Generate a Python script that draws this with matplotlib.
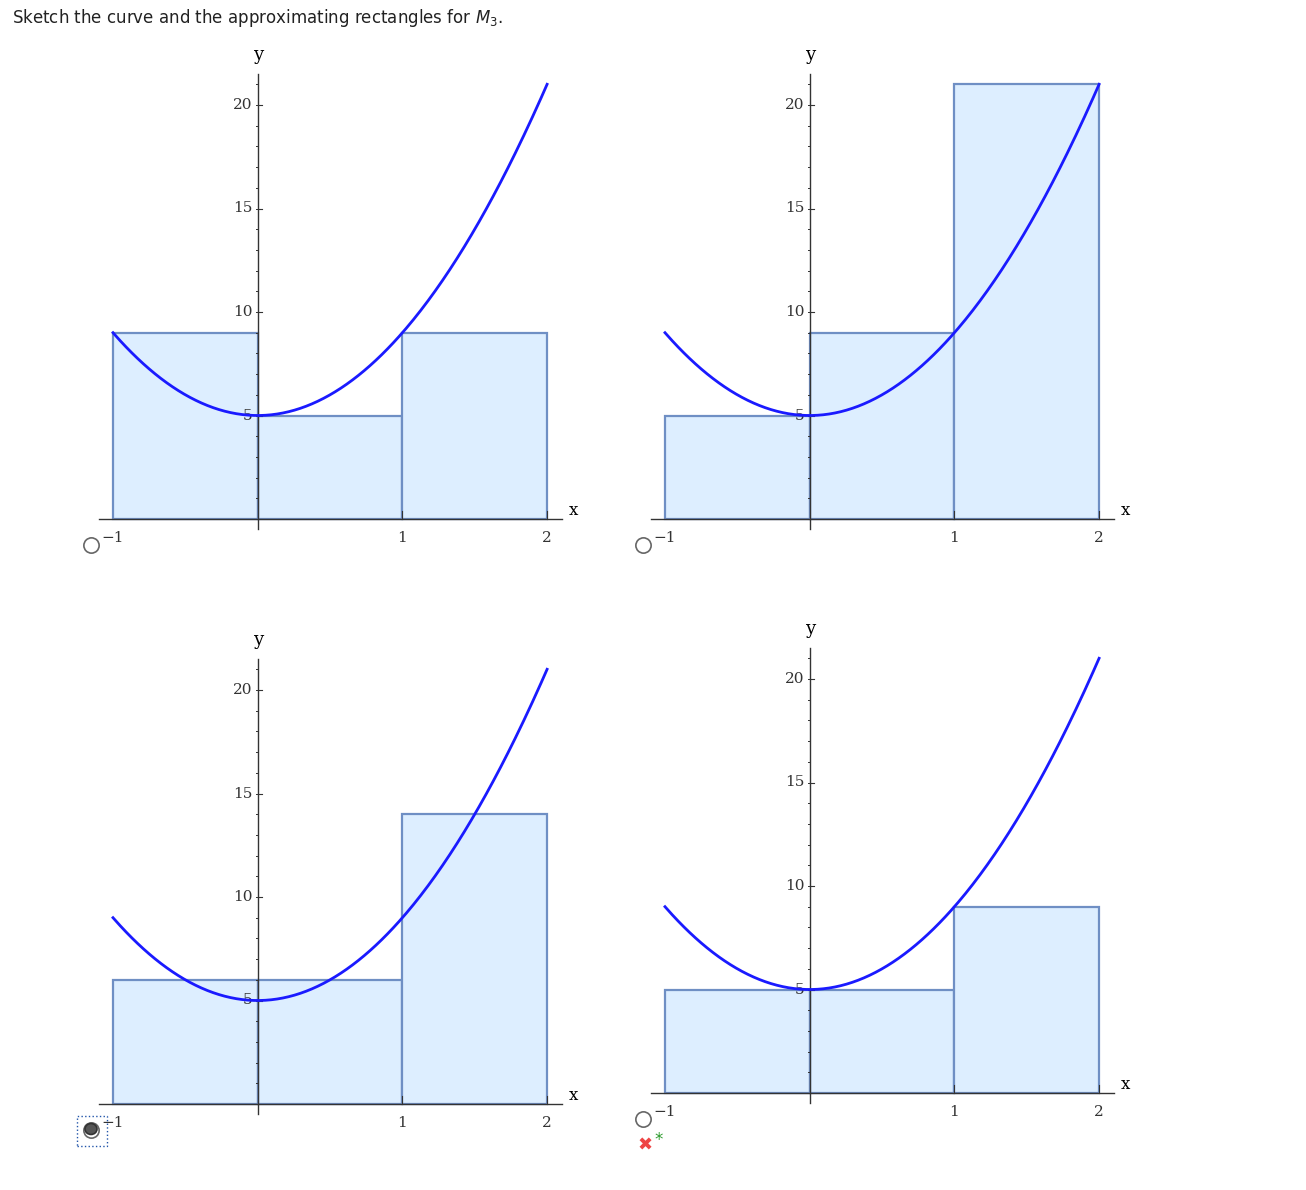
import matplotlib
matplotlib.use("Agg")
import matplotlib.pyplot as plt
from matplotlib.patches import Rectangle, Circle
import numpy as np

W, H = 1306, 1190
PX_X = 144.7   # px per x unit
PX_Y = 20.7    # px per y unit
XLIM = (-1.25, 2.25)
YLIM = (-1.5, 22.5)

edges = [-1, 0, 1, 2]
heights_left = [9, 5, 9]
heights_right = [5, 9, 21]
heights_mid = [6, 6, 14]
heights_min = [5, 5, 9]
# (heights, pixel of x=-1, pixel of y=0)
panels = [(heights_left, 113, 519), (heights_right, 665, 519),
          (heights_mid, 113, 1104), (heights_min, 665, 1093)]


def f(x):
    return 4 * x ** 2 + 5


fig = plt.figure(figsize=(W / 100, H / 100), dpi=100)
fig.text(12 / W, 1 - 18 / H, "Sketch the curve and the approximating rectangles for $M_3$.",
         fontsize=12, va="center", color="#222222")

serif = "DejaVu Serif"
for hs, px1, py0 in panels:
    left = px1 - (-1 - XLIM[0]) * PX_X
    bottom = py0 + (0 - YLIM[0]) * PX_Y
    w = (XLIM[1] - XLIM[0]) * PX_X
    h = (YLIM[1] - YLIM[0]) * PX_Y
    ax = fig.add_axes([left / W, 1 - bottom / H, w / W, h / H])
    ax.set_xlim(*XLIM)
    ax.set_ylim(*YLIM)
    ax.axis("off")
    for i, hh in enumerate(hs):
        ax.add_patch(Rectangle((edges[i], 0), 1, hh, facecolor="#ddeeff",
                               edgecolor="#6f8fc4", lw=1.6, zorder=1))
    ax.plot([-1.1, 2.1], [0, 0], color="#333333", lw=1, zorder=2)
    ax.plot([0, 0], [-0.5, 21.5], color="#333333", lw=1, zorder=2)
    for yt in range(1, 22):
        ax.plot([-0.012, 0], [yt, yt], color="#333333", lw=0.7, zorder=2)
    for yt in (5, 10, 15, 20):
        ax.plot([0, 0.03], [yt, yt], color="#333333", lw=0.8, zorder=2)
        ax.text(-0.035, yt, str(yt), ha="right", va="center", fontsize=11,
                family=serif, color="#333333", zorder=2)
    for xt in (1, 2):
        ax.plot([xt, xt], [0, 0.4], color="#333333", lw=0.8, zorder=2)
        ax.text(xt, -0.6, str(xt), ha="center", va="top", fontsize=11,
                family=serif, color="#333333")
    ax.text(-1, -0.6, "\u22121", ha="center", va="top", fontsize=11,
            family=serif, color="#333333")
    ax.text(2.18, 0, "x", ha="center", va="bottom", fontsize=12, family=serif)
    ax.text(0, 22.0, "y", ha="center", va="bottom", fontsize=13, family=serif)
    xs = np.linspace(-1, 2, 300)
    ax.plot(xs, f(xs), color="#1a1aff", lw=2, zorder=3)
    # radio button
    cx = (px1 - 22 - left) / w * (XLIM[1] - XLIM[0]) + XLIM[0]
    ax.plot([cx], [-1.25], marker="o", ms=11, mfc="white", mec="#666666",
            mew=1.2, clip_on=False)

# selected radio (bottom-left) with dotted focus box
fig.add_artist(Circle((91 / W, 1 - 1129 / H), 6 / W, transform=fig.transFigure,
                      facecolor="#555555", edgecolor="#333333", lw=1.2))
fig.add_artist(Rectangle((77 / W, 1 - 1146 / H), 30 / W, 30 / H, transform=fig.transFigure,
                         fill=False, ls=":", lw=1, edgecolor="#2255aa"))
fig.text(645 / W, 1 - 1146 / H, "\u2716", color="#ee4444", fontsize=13, va="center", ha="center")
fig.text(659 / W, 1 - 1140 / H, "*", color="#2a9a2a", fontsize=12, va="center", ha="center")

fig.savefig("out.png", dpi=100)
